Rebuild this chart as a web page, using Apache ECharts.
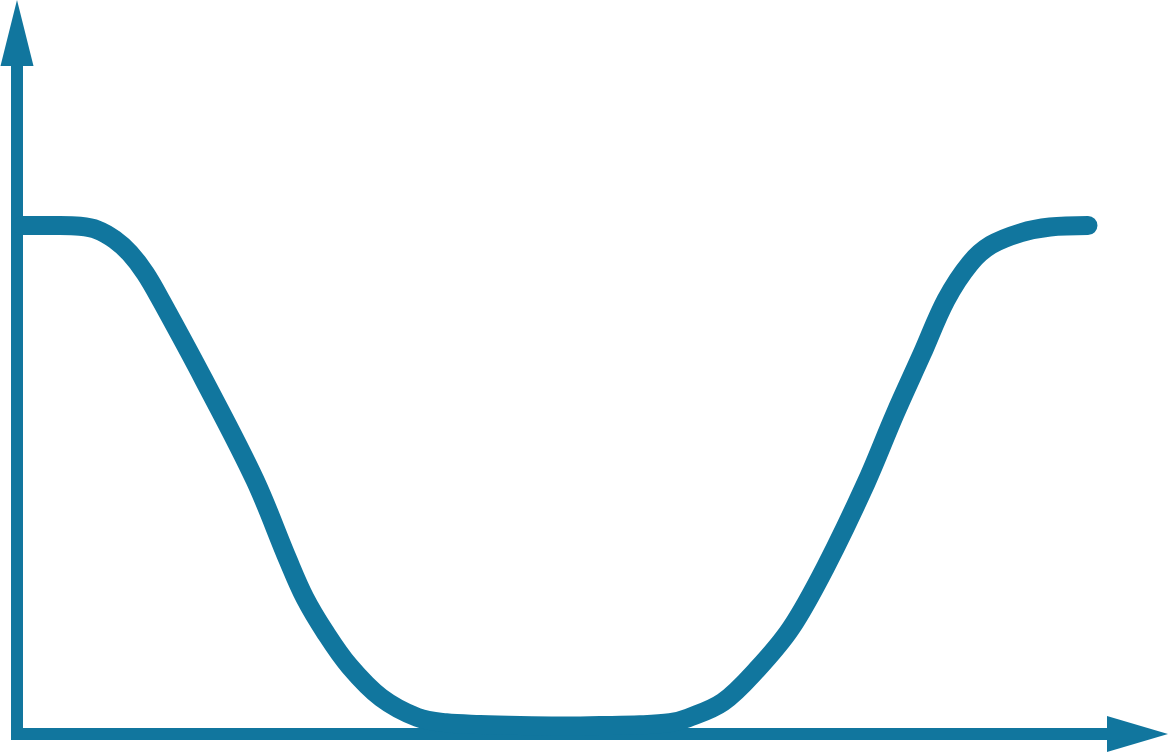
<!DOCTYPE html>
<html>
<head>
<meta charset="utf-8">
<script src="https://cdn.jsdelivr.net/npm/echarts@6/dist/echarts.min.js"></script>
<style>
  html, body { margin: 0; padding: 0; background: #ffffff; }
  #chart { width: 1170px; height: 753px; }
</style>
</head>
<body>
<div id="chart"></div>
<script>
// Curve samples (x and y on a 0–100 scale)
const xValues = [0.45, 3.84, 5.62, 7.16, 8.71, 10.07, 11.46, 12.90, 16.69, 21.24, 24.19, 25.70, 27.51, 29.66, 32.49, 35.73, 38.29, 41.32, 44.89, 48.37, 52.03, 55.60, 58.28, 59.88, 63.01, 66.04, 69.08, 72.16, 75.77, 78.36, 80.77, 82.91, 85.05, 86.92, 89.60, 92.19, 95.58];
const yValues = [72.54, 72.54, 72.43, 71.93, 70.54, 68.59, 65.69, 61.73, 50.50, 36.23, 24.82, 19.40, 14.52, 9.70, 5.19, 2.37, 1.60, 1.36, 1.21, 1.14, 1.21, 1.31, 1.61, 2.28, 4.56, 9.20, 15.12, 23.82, 35.81, 45.65, 54.21, 61.91, 67.13, 69.76, 71.51, 72.33, 72.54];

const lineColor = '#11769e';
const seriesData = xValues.map((x, i) => [x, yValues[i]]);

const chart = echarts.init(document.getElementById('chart'), null, { renderer: 'canvas' });
chart.setOption({
  animation: false,
  backgroundColor: '#ffffff',
  grid: { left: 17, right: 32.5, top: 33, bottom: 19 },
  xAxis: {
    type: 'value', min: 0, max: 100,
    axisLine: {
      show: true, onZero: false,
      symbol: ['none', 'triangle'], symbolSize: [36, 61],
      lineStyle: { color: lineColor, width: 12, cap: 'square' }
    },
    axisTick: { show: false }, axisLabel: { show: false }, splitLine: { show: false }
  },
  yAxis: {
    type: 'value', min: 0, max: 100,
    axisLine: {
      show: true,
      symbol: ['none', 'triangle'], symbolSize: [33, 66],
      lineStyle: { color: lineColor, width: 12, cap: 'square' }
    },
    axisTick: { show: false }, axisLabel: { show: false }, splitLine: { show: false }
  },
  series: [{
    type: 'line',
    data: seriesData,
    smooth: 0.35,
    showSymbol: false,
    clip: false,
    lineStyle: { color: lineColor, width: 19, cap: 'round', join: 'round' }
  }]
});
</script>
</body>
</html>
